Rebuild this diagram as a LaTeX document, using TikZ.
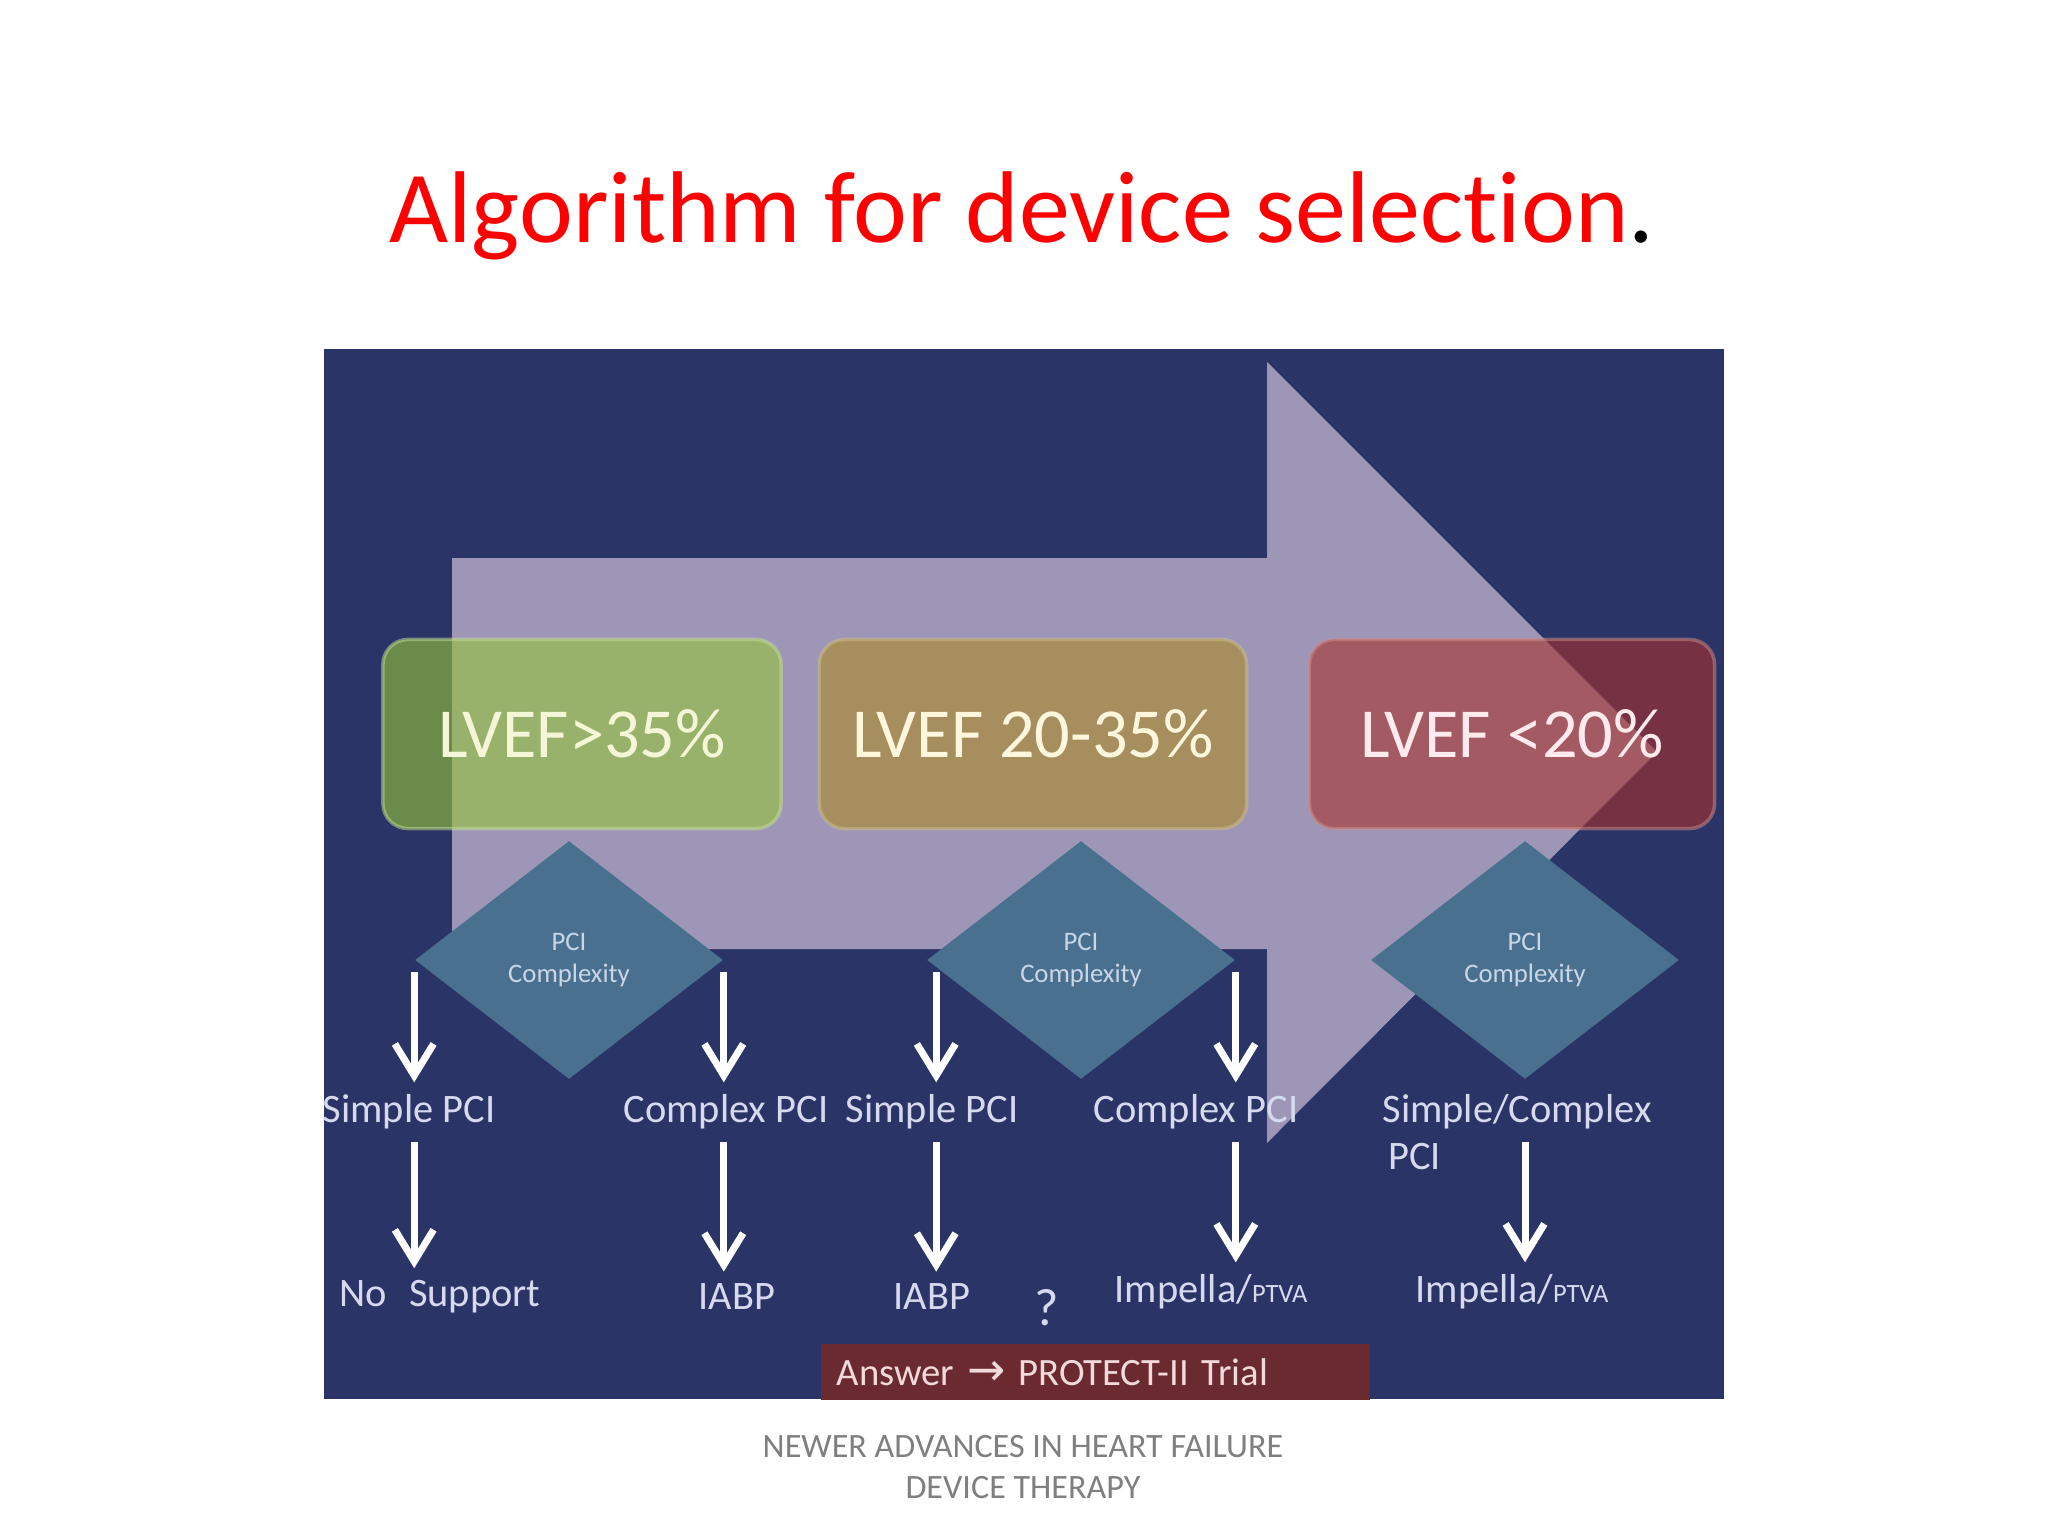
\documentclass[tikz,border=0pt]{standalone}
\usepackage{fontspec}
\setmainfont{Carlito}[Ligatures=NoCommon]
\newfontfamily\arrowfont{DejaVu Sans}
\usetikzlibrary{arrows.meta,positioning,shapes.geometric,calc}
\definecolor{panel}{HTML}{2B3466}
\definecolor{band}{HTML}{9D96B6}
\definecolor{lvgreen}{RGB}{150,198,58}
\definecolor{lvgold}{RGB}{172,137,37}
\definecolor{lvred}{RGB}{168,50,43}
\definecolor{pcidia}{HTML}{4A7090}
\definecolor{pcitext}{HTML}{C8D6E6}
\definecolor{label}{HTML}{D6DAEE}
\definecolor{answer}{HTML}{6B2A30}
\definecolor{footer}{HTML}{7F7F7F}

\tikzset{
  lvbox/.style={rounded corners=0.25cm, minimum width=3.98cm, minimum height=1.89cm,
    fill=#1, fill opacity=0.6, draw=#1!55!white, draw opacity=0.5, line width=1pt,
    text opacity=1, font=\fontsize{20}{23}\selectfont},
  pci/.style={diamond, fill=pcidia, minimum width=3.08cm, minimum height=2.38cm, inner sep=0pt,
    text=pcitext, align=center, font=\fontsize{7.6}{9.3}\selectfont},
  lbl/.style={text=label, font=\fontsize{11.5}{13.4}\selectfont},
  flow/.style={white, line width=2pt, -{Straight Barb[length=9pt,width=11pt]}},
}

\begin{document}
\begin{tikzpicture}[x=0.01cm,y=-0.01cm]
  \useasboundingbox (0,0) rectangle (2048,1536);

  % Title
  \node (title) at (1022,216) {\fontsize{29}{34}\selectfont\textcolor{red}{Algorithm for device selection}.};

  % Panel and big arrow
  \fill[panel] (324,349) rectangle (1724,1399);
  \fill[band] (452,558) -- (1267,558) -- (1267,362) -- (1657,752) -- (1267,1143) -- (1267,949) -- (452,949) -- cycle;

  % LVEF boxes
  \node[lvbox=lvgreen, text={rgb,255:red,245;green,246;blue,216}] (lv1) at (582,734) {LVEF>35\%};
  \node[lvbox=lvgold, text={rgb,255:red,255;green,246;blue,222}, minimum width=4.27cm] (lv2) at (1033,734) {LVEF 20-35\%};
  \node[lvbox=lvred, text={rgb,255:red,255;green,234;blue,238}, minimum width=4.05cm] (lv3) at (1512,734) {LVEF <20\%};

  % PCI complexity
  \foreach \n/\x in {d1/569, d2/1081, d3/1525} {
    \node[pci] (\n) at (\x,960) {PCI\\Complexity};
  }

  % PCI type
  \node[lbl] (s1) at (409,1112) {Simple PCI};
  \node[lbl] (c1) at (726,1112) {Complex PCI};
  \node[lbl] (s2) at (932,1112) {Simple PCI};
  \node[lbl] (c2) at (1196,1112) {Complex PCI};
  \node[lbl, align=left, anchor=north west] (sc) at (1370,1082) {Simple/Complex\\\hspace{0.15em}PCI};

  % Support
  \node[lbl] (o1) at (440,1297) {No\hspace{0.55em}Support};
  \node[lbl] (o2) at (737,1297) {IABP};
  \node[lbl] (o3) at (932,1297) {IABP};
  \node[lbl, font=\fontsize{15}{17}\selectfont] (q) at (1047,1308) {?};
  \node[lbl] (o4) at (1211,1292) {Impella/{\fontsize{7.5}{9}\selectfont PTVA}};
  \node[lbl] (o5) at (1512,1292) {Impella/{\fontsize{7.5}{9}\selectfont PTVA}};

  % Arrows
  \draw[flow] ([yshift=-0.12cm]d1.west) -- (d1.west |- s1.north);
  \draw[flow] ([yshift=-0.12cm]d1.east) -- (d1.east |- c1.north);
  \draw[flow] ([xshift=0.1cm,yshift=-0.12cm]d2.west) -- ([xshift=0.1cm]d2.west |- s2.north);
  \draw[flow] ([yshift=-0.12cm]d2.east) -- (d2.east |- c2.north);
  \draw[flow] (d1.west |- s1.south) -- (d1.west |- o1.north);
  \draw[flow] (d1.east |- c1.south) -- (d1.east |- o2.north);
  \draw[flow] ([xshift=0.1cm]d2.west |- s2.south) -- ([xshift=0.1cm]d2.west |- o3.north);
  \draw[flow] (d2.east |- c2.south) -- (d2.east |- o4.north);
  \draw[flow] (d3.south |- s1.south) -- (d3.south |- o5.north);

  % Answer
  \node[fill=answer, anchor=south west, minimum width=5.49cm, minimum height=0.56cm, inner ysep=0pt, inner xsep=0.16cm,
    text width=5.17cm, align=left, text={rgb,255:red,240;green,218;blue,218}, font=\fontsize{11}{13}\selectfont] (ans) at (820,1401)
    {Answer {\arrowfont\fontsize{13}{13}\selectfont →} PROTECT-II Trial};

  % Footer
  \node[text=footer, align=center, font=\fontsize{9.7}{11.7}\selectfont] (foot) at (1023,1467) {NEWER ADVANCES IN HEART FAILURE\\DEVICE THERAPY};
\end{tikzpicture}
\end{document}
